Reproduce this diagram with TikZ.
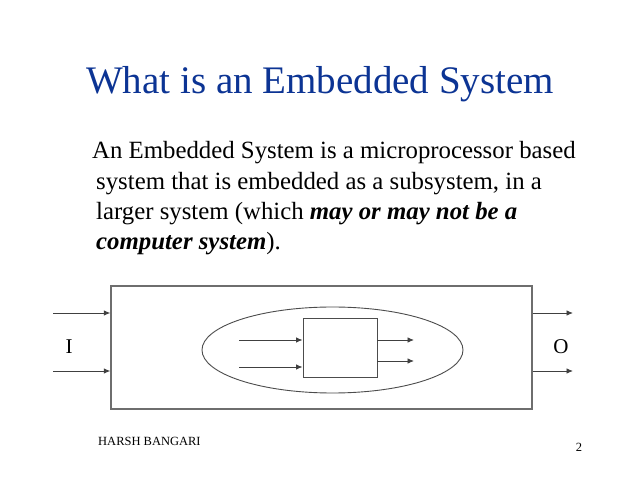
\documentclass[tikz,border=0pt]{standalone}
\usepackage{fontspec}
\setmainfont{Liberation Serif}
\usetikzlibrary{arrows.meta}
\definecolor{titleblue}{RGB}{12,52,148}
\definecolor{boxgray}{RGB}{110,110,110}
\begin{document}
\begin{tikzpicture}[x=1pt,y=-1pt,
  txt/.style={inner sep=0pt,anchor=base west},
  box/.style={draw=boxgray,line width=1.2pt},
  arr/.style={draw=black!75,line width=0.9pt,-{Latex[length=6.5pt,width=5.5pt]}}]
\useasboundingbox[fill=white] (0,0) rectangle (638,478);
% title
\node[inner sep=0pt,anchor=base,text=titleblue,font=\fontsize{39}{39}\selectfont] (title) at (320,94) {What is an Embedded System};
% body
\begin{scope}[every node/.style={txt,font=\fontsize{24.8}{24.8}\selectfont}]
\node (l1) at (92,159) {An Embedded System is a microprocessor based};
\node (l2) at (96,190) {system that is embedded as a subsystem, in a};
\node (l3) at (96,220) {larger system (which \textbf{\textit{may or may not be a}}};
\node (l4) at (96,250) {\textbf{\textit{computer system}}).};
\end{scope}
% outer box
\node[box,minimum width=421pt,minimum height=123pt,inner sep=0pt] (outer) at (321.5,347.5) {};
% ellipse
\draw[draw=black!70,line width=0.9pt] (332.5,350) ellipse [x radius=130.5, y radius=43];
\node[draw=black!70,line width=0.9pt,minimum width=74pt,minimum height=59pt,inner sep=0pt] (inner) at (340,347.5) {};
% coordinates for arrows
\coordinate (ia1) at (53,313);
\coordinate (ia2) at (53,371);
\coordinate (oa1) at (573,313);
\coordinate (oa2) at (573,371);
\coordinate (ib1) at (239,340);
\coordinate (ib2) at (239,367);
\coordinate (ob1) at (414,340);
\coordinate (ob2) at (414,361);
\draw[arr] (ia1) -- (ia1 -| outer.west);
\draw[arr] (ia2) -- (ia2 -| outer.west);
\draw[arr] (oa1 -| outer.east) -- (oa1);
\draw[arr] (oa2 -| outer.east) -- (oa2);
\draw[arr] (ib1) -- (ib1 -| inner.west);
\draw[arr] (ib2) -- (ib2 -| inner.west);
\draw[arr] (ob1 -| inner.east) -- (ob1);
\draw[arr] (ob2 -| inner.east) -- (ob2);
% I and O
\node[inner sep=0pt,anchor=base,font=\fontsize{21}{21}\selectfont] (I) at (69,354) {I};
\node[inner sep=0pt,anchor=base,font=\fontsize{21}{21}\selectfont] (O) at (561,354) {O};
% footer
\node[txt,font=\fontsize{12.5}{12.5}\selectfont] (author) at (98,446) {HARSH BANGARI};
\node[inner sep=0pt,anchor=base,font=\fontsize{12.5}{12.5}\selectfont] (page) at (579,452) {2};
\end{tikzpicture}
\end{document}
